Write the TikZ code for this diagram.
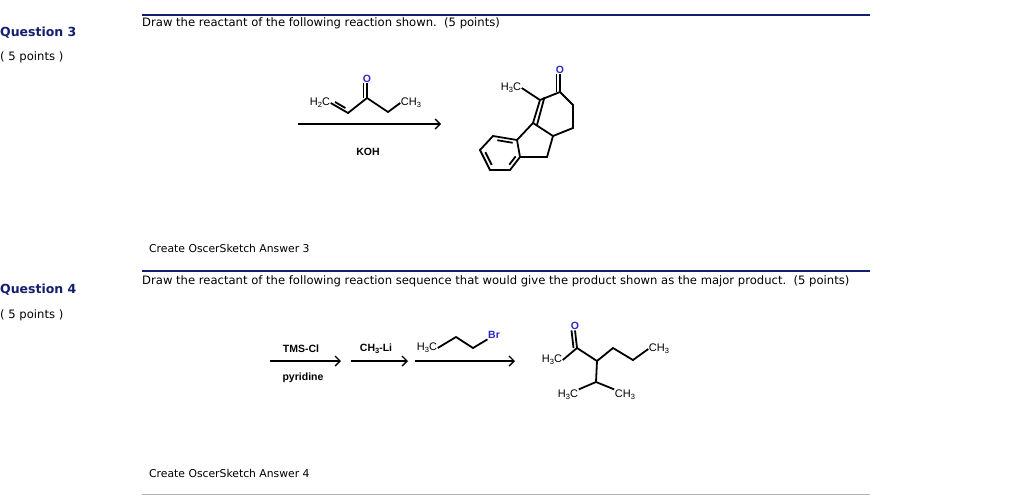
\documentclass[tikz,border=0pt]{standalone}
\usepackage{fontspec}
\usetikzlibrary{arrows.meta,calc}
\setmainfont{DejaVu Sans}
\newfontfamily\chemf{Liberation Sans}
\definecolor{navy}{RGB}{20,30,110}
\definecolor{oblue}{RGB}{40,40,200}
\newcommand{\sbs}[1]{\raisebox{-0.35ex}{\fontsize{7.5}{8}\selectfont #1}}
\begin{document}
\begin{tikzpicture}[x=1pt,y=-1pt,
 hdr/.style={anchor=west,font=\fontsize{12.5}{14}\selectfont\bfseries,text=navy,inner sep=0},
 txt/.style={anchor=west,font=\fontsize{11.6}{13}\selectfont,inner sep=0},
 lab/.style={font=\chemf\fontsize{11}{12}\selectfont,inner sep=0.5},
 labb/.style={font=\chemf\fontsize{10.5}{12}\selectfont\bfseries,inner sep=0.5},
 ox/.style={font=\chemf\fontsize{10.5}{12}\selectfont\bfseries,text=oblue,inner sep=0.5},
 bd/.style={line width=1.8pt},
 arr/.style={line width=1.4pt,-{Straight Barb[length=5pt]}}]
\useasboundingbox (0,0) rectangle (1024,496);
\fill[white] (0,0) rectangle (1024,496);
% headers
\coordinate (l1a) at (142,15); \coordinate (l1b) at (870,15);
\draw[navy,line width=1.3pt] (l1a)--(l1b);
\coordinate (l2a) at (142,271); \coordinate (l2b) at (870,271);
\draw[navy,line width=1.3pt] (l2a)--(l2b);
\coordinate (l3a) at (142,494); \coordinate (l3b) at (870,494);
\draw[gray!60,line width=1pt] (l3a)--(l3b);
\node[hdr] (q3) at (0,33) {Question 3};
\node[txt] (p3) at (0,57) {( 5 points )};
\node[txt] (t3) at (142,23.5) {Draw the reactant of the following reaction shown.\ \ (5 points)};
\node[txt,font=\fontsize{10.8}{12}\selectfont] (c3) at (149,248) {Create OscerSketch Answer 3};
\node[hdr] (q4) at (0,290) {Question 4};
\node[txt] (p4) at (0,315) {( 5 points )};
\node[txt] (t4) at (142,281.5) {Draw the reactant of the following reaction sequence that would give the product shown as the major product.\ \ (5 points)};
\node[txt,font=\fontsize{10.8}{12}\selectfont] (c4) at (149,473) {Create OscerSketch Answer 4};
% reaction 1
\coordinate (a1s) at (298,124); \coordinate (a1e) at (441,124);
\draw[arr] (a1s)--(a1e);
\node[labb] (koh) at (368,152) {KOH};
\node[lab] (h2c) at (320,103) {H\sbs{2}C};
\coordinate (r1) at (348,113); \coordinate (r2) at (367,98); \coordinate (r3) at (388,112);
\node[ox] (ro) at (367,79) {O};
\node[lab] (rch3) at (411,103) {CH\sbs{3}};
\draw[bd] (h2c.east)--(r1)--(r2)--(r3)--(rch3.west);
\draw[bd] ($(h2c.east)!0.25!(r1)+(0,-3.5)$)--($(r1)!0.15!(h2c.east)+(0,-3.5)$);
\draw[bd] (r2)--(ro.south);
\draw[bd] ([xshift=-3.5]r2)--([xshift=-3.5]ro.south);
% product 1
\node[ox] (po) at (560,70) {O};
\coordinate (c1) at (560,92); \coordinate (c2) at (540,100); \coordinate (c3) at (533,123);
\coordinate (c4) at (553,136); \coordinate (c5) at (573,128); \coordinate (c6) at (573,105);
\coordinate (c7) at (547,157); \coordinate (b1) at (517,140); \coordinate (b2) at (520,157);
\coordinate (b3) at (510,170); \coordinate (b4) at (490,170); \coordinate (b5) at (480,150);
\coordinate (b6) at (493,136);
\node[lab] (pch3) at (511,88) {H\sbs{3}C};
\draw[bd] (c1)--(c2)--(c3)--(c4)--(c5)--(c6)--(c1);
\draw[bd] (pch3.east)--(c2);
\draw[bd] (c1)--(po.south); \draw[bd] ([xshift=-3.5]c1)--([xshift=-3.5]po.south);
\draw[bd] ([xshift=4.5,yshift=3]c2)--([xshift=4,yshift=-2]c3);
\draw[bd] (c3)--(b1)--(b2)--(c7)--(c4);
\draw[bd] (b1)--(b6)--(b5)--(b4)--(b3)--(b2);
\draw[bd] ($(b1)!0.18!(b6)+(0,3.5)$) -- ($(b6)!0.18!(b1)+(0,3.5)$);
\draw[bd] ($(b5)!0.18!(b4)+(3.5,-1.5)$) -- ($(b4)!0.18!(b5)+(3.5,-1.5)$);
\draw[bd] ($(b3)!0.18!(b2)+(-2.5,-3)$) -- ($(b2)!0.18!(b3)+(-2.5,-3)$);
% reaction 2
\coordinate (s1) at (270,361); \coordinate (e1) at (341,361);
\coordinate (s2) at (351,361); \coordinate (e2) at (408,361);
\coordinate (s3) at (415,361); \coordinate (e3) at (515,361);
\draw[arr] (s1)--(e1); \draw[arr] (s2)--(e2); \draw[arr] (s3)--(e3);
\node[labb] (tms) at (301,349) {TMS-Cl};
\node[labb] (pyr) at (303,378) {pyridine};
\node[labb] (mel) at (376,349) {CH\sbs{3}-Li};
\node[lab] (h3ca) at (427,348) {H\sbs{3}C};
\coordinate (d1) at (456,337); \coordinate (d2) at (473,348);
\node[ox] (br) at (494,335) {Br};
\draw[bd] (h3ca.east)--(d1)--(d2)--(br.south west);
% product 2
\node[ox] (qo) at (575,326) {O};
\coordinate (k1) at (577,348); \coordinate (k2) at (597,361); \coordinate (k3) at (613,348);
\coordinate (k4) at (633,360); \coordinate (k5) at (596,382);
\node[lab] (qme) at (552,360) {H\sbs{3}C};
\node[lab] (qet) at (659,349) {CH\sbs{3}};
\node[lab] (qa) at (568,395) {H\sbs{3}C};
\node[lab] (qb) at (625,395) {CH\sbs{3}};
\draw[bd] (qme.east)--(k1)--(k2)--(k3)--(k4)--(qet.west);
\draw[bd] (k1)--(qo.south); \draw[bd] ([xshift=-3.5]k1)--([xshift=-3.5]qo.south);
\draw[bd] (k2)--(k5); \draw[bd] (k5)--(qa.north east); \draw[bd] (k5)--(qb.north west);
\end{tikzpicture}
\end{document}
